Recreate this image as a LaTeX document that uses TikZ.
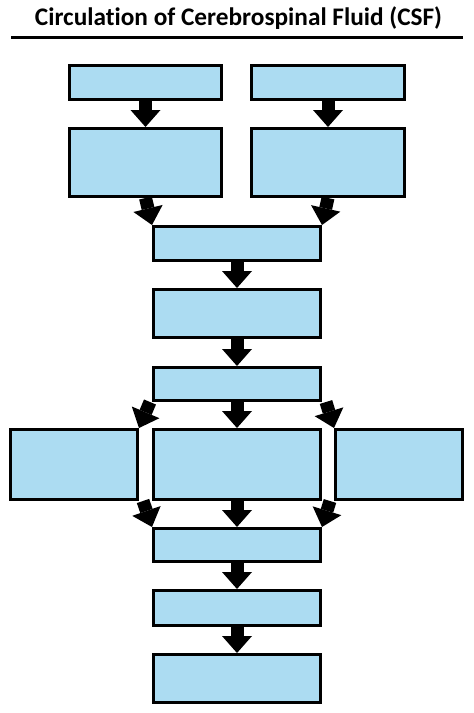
\documentclass[tikz,border=0pt]{standalone}
\usepackage{fontspec}
\setmainfont{Carlito}[Ligatures=NoCommon]
\usetikzlibrary{arrows.meta,calc}
\pgfdeclarelayer{bg}
\pgfsetlayers{bg,main}
\definecolor{boxblue}{RGB}{172,220,242}
\begin{document}
\begin{tikzpicture}[x=1pt,y=-1pt,
  box/.style 2 args={draw=black,line width=3pt,fill=boxblue,inner sep=0pt,
    minimum width=#1pt,minimum height=#2pt},
  blk/.style={line width=13pt,-{Triangle[width=30pt,length=17pt,line width=0pt]}}]
\useasboundingbox (0,0) rectangle (474,713);
\node (title) at (238.5,18.5) {\bfseries\fontsize{25.3}{30}\selectfont Circulation of Cerebrospinal Fluid (CSF)};
\draw[line width=3pt] (11,37) -- (463,37);
\node[box={152}{34}] (A1) at (145.5,82.5) {};
\node[box={153}{34}] (A2) at (328,82.5) {};
\node[box={152}{68}] (B1) at (145.5,162.5) {};
\node[box={153}{68}] (B2) at (328,162.5) {};
\node[box={167}{34}] (C) at (237,243.5) {};
\node[box={167}{48}] (D) at (237,313.5) {};
\node[box={167}{33}] (E) at (237,384) {};
\node[box={127}{70}] (FL) at (74,464.5) {};
\node[box={167}{70}] (FC) at (237,464.5) {};
\node[box={127}{70}] (FR) at (399,464.5) {};
\node[box={167}{33}] (G) at (237,545) {};
\node[box={167}{35}] (H) at (237,608) {};
\node[box={167}{48}] (I) at (237,678.5) {};
\begin{pgfonlayer}{bg}
\draw[blk] (A1.south) -- (B1.north);
\draw[blk] (A2.south) -- (B2.north);
\draw[blk] (B1.south) -- (C.north west);
\draw[blk] (B2.south) -- (C.north east);
\draw[blk] (C.south) -- (D.north);
\draw[blk] (D.south) -- (E.north);
\draw[blk] ($(E.south west)+(-2,0)$) -- (FL.north east);
\draw[blk] (E.south) -- (FC.north);
\draw[blk] ($(E.south east)+(4,0)$) -- (FR.north west);
\draw[blk] ($(FL.south east)+(4,0)$) -- (G.north west);
\draw[blk] (FC.south) -- (G.north);
\draw[blk] ($(FR.south west)+(-4,0)$) -- (G.north east);
\draw[blk] (G.south) -- (H.north);
\draw[blk] (H.south) -- (I.north);
\end{pgfonlayer}
\end{tikzpicture}
\end{document}
